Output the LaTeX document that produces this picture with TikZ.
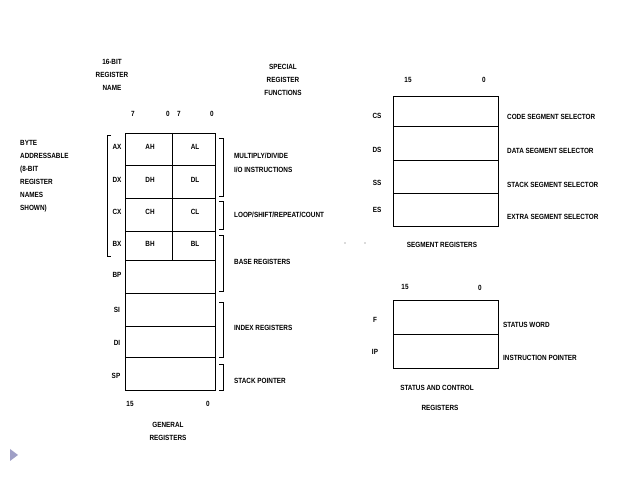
\documentclass[tikz,border=0pt]{standalone}
\usepackage{fontspec}
\setmainfont{Liberation Sans}
\usetikzlibrary{decorations.pathreplacing}
\begin{document}
\begin{tikzpicture}[x=1pt,y=-1pt,
  t/.style={font=\fontsize{7.5}{13}\selectfont\bfseries, inner sep=0pt, xscale=0.85},
  tl/.style={t, anchor=west},
  reg/.style={draw, line width=0.9pt}]
\useasboundingbox (0,0) rectangle (638,478);
\fill[white] (0,0) rectangle (638,478);
% general registers
\foreach \a/\b/\n in {133/165/ax,165/198/dx,198/231/cx,231/260/bx,260/293/bp,293/326/si,326/357/di,357/390/sp}
  \draw[reg] (125,\a) rectangle (215,\b);
\draw[reg] (172,133) -- (172,260);
\foreach \y/\l/\h/\lo in {147/AX/AH/AL,180/DX/DH/DL,212/CX/CH/CL,244/BX/BH/BL}{
  \node[t] at (117,\y) {\l}; \node[t] at (150,\y) {\h}; \node[t] at (195,\y) {\lo};}
\node[t] (bp) at (117,275) {BP};
\node[t] (si) at (117,310) {SI};
\node[t] (di) at (117,343) {DI};
\node[t] (spl) at (116,376) {SP};
\node[t] at (133,114) {7}; \node[t] at (168,114) {0}; \node[t] at (179,114) {7}; \node[t] at (212,114) {0};
\node[t] at (130,404) {15}; \node[t] at (208,404) {0};
\node[t, align=center] at (168,431) {GENERAL\\REGISTERS};
\node[t, align=center] at (112,75) {16-BIT\\REGISTER\\NAME};
\node[t, align=center] at (283,80) {SPECIAL\\REGISTER\\FUNCTIONS};
\node[t, align=left, anchor=north west] at (20,140) {BYTE\\ADDRESSABLE\\(8-BIT\\REGISTER\\NAMES\\SHOWN)};
\draw[line width=0.6pt] (111,135) -- (107,135) -- (107,256) -- (111,256);
\foreach \a/\b in {138/196,201/229,235/291,302/357,364/390}
  \draw[line width=0.6pt] (219,\a) -- (223,\a) -- (223,\b) -- (219,\b);
\node[tl] at (234,156) {MULTIPLY/DIVIDE};
\node[tl] at (234,170) {I/O INSTRUCTIONS};
\node[tl] at (234,215) {LOOP/SHIFT/REPEAT/COUNT};
\node[tl] at (234,262) {BASE REGISTERS};
\node[tl] at (234,328) {INDEX REGISTERS};
\node[tl] at (234,381) {STACK POINTER};
% segment registers
\foreach \a/\b in {96/126,126/160,160/193,193/226}
  \draw[reg] (393,\a) rectangle (498,\b);
\node[t] at (408,80) {15}; \node[t] at (484,80) {0};
\node[t] at (377,116) {CS}; \node[t] at (377,150) {DS}; \node[t] at (377,183) {SS}; \node[t] at (377,210) {ES};
\node[tl] at (507,117) {CODE SEGMENT SELECTOR};
\node[tl] at (507,151) {DATA SEGMENT SELECTOR};
\node[tl] at (507,185) {STACK SEGMENT SELECTOR};
\node[tl] at (507,217) {EXTRA SEGMENT SELECTOR};
\node[t] at (442,245) {SEGMENT REGISTERS};
% status
\draw[reg] (393,300) rectangle (498,334);
\draw[reg] (393,334) rectangle (498,368);
\node[t] at (405,287) {15}; \node[t] at (480,288) {0};
\node[t] at (375,320) {F}; \node[t] at (375,352) {IP};
\node[tl] at (503,325) {STATUS WORD};
\node[tl] at (503,358) {INSTRUCTION POINTER};
\node[t] at (437,388) {STATUS AND CONTROL};
\node[t] at (440,408) {REGISTERS};
\fill[black!60] (345,243) circle (0.6); \fill[black!60] (365,243) circle (0.6);
\fill[blue!25!gray!60] (10,449) -- (10,461) -- (18,455) -- cycle;
\end{tikzpicture}
\end{document}
